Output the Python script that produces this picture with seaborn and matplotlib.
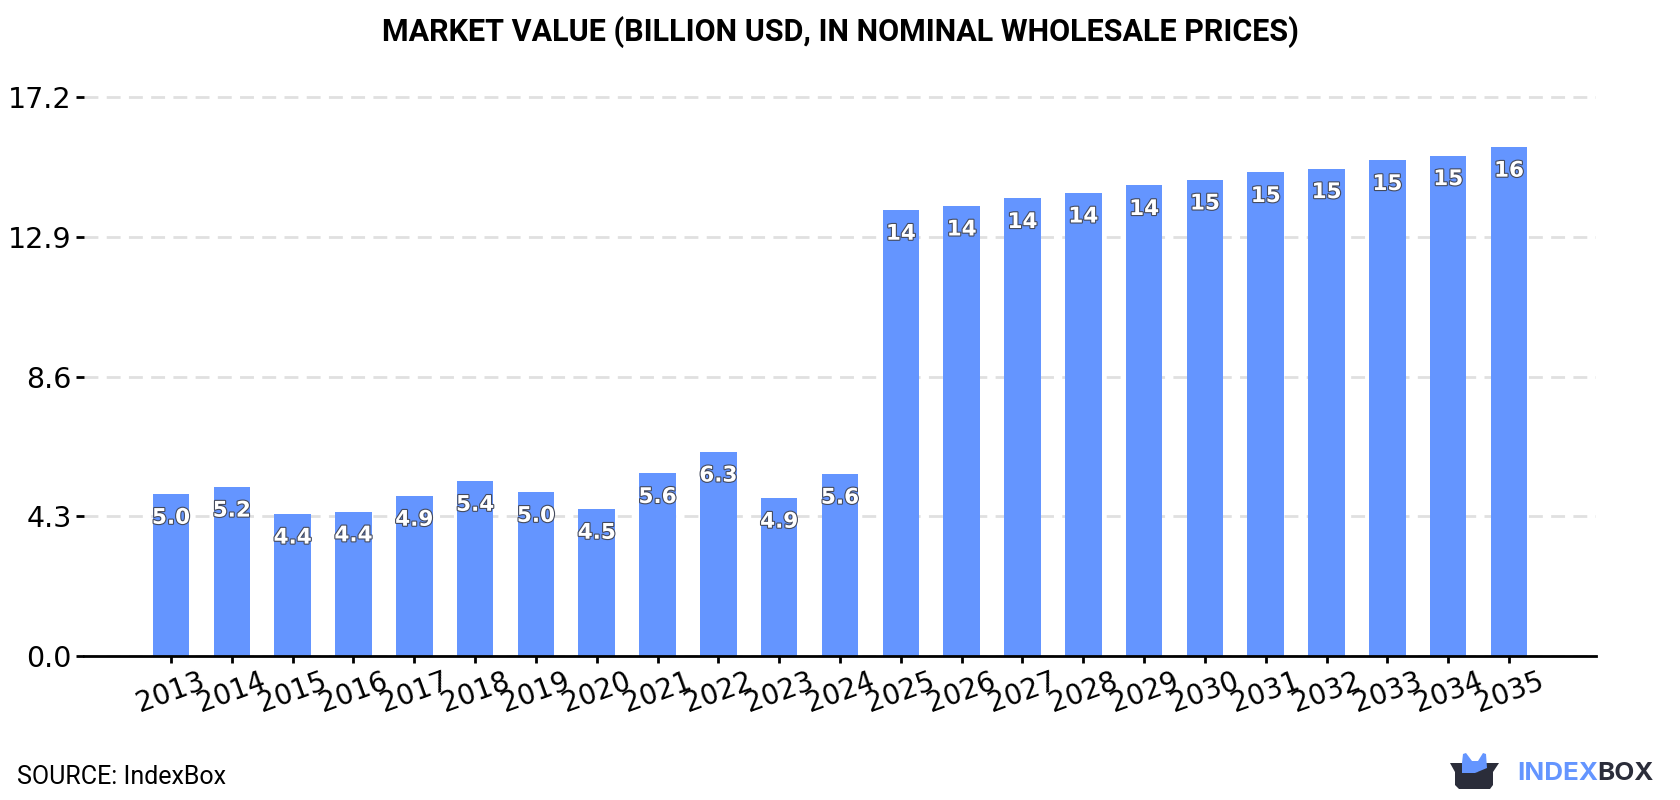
import matplotlib
matplotlib.use("Agg")
import matplotlib.pyplot as plt
import matplotlib.patheffects as pe
from matplotlib.patches import Polygon
import pandas as pd
import seaborn as sns

years = [str(y) for y in range(2013, 2036)]
values = [4.98, 5.2, 4.37, 4.44, 4.92, 5.38, 5.04, 4.52, 5.62, 6.28, 4.86, 5.6,
          13.72, 13.85, 14.08, 14.25, 14.48, 14.65, 14.88, 15.0, 15.25, 15.4, 15.66]
y_ticks = [0.0, 4.3, 8.6, 12.9, 17.2]
title = "MARKET VALUE (BILLION USD, IN NOMINAL WHOLESALE PRICES)"
source = "SOURCE: IndexBox"

BAR = "#6495ff"
DARK = "#2b2d3a"
W, H = 1680, 800

sns.set_theme(style="white")
plt.rcParams["font.family"] = ["DejaVu Sans"]

fig = plt.figure(figsize=(W / 100, H / 100), dpi=100, facecolor="white")
ax = fig.add_axes([84 / W, 1 - 656 / H, (1596 - 84) / W, (656 - 71) / H])

df = pd.DataFrame({"year": years, "value": values})
sns.barplot(data=df, x="year", y="value", color=BAR, saturation=1, width=0.6,
            order=years, ax=ax, zorder=3, linewidth=0, edgecolor="none")

ax.set_xlim(-1.43, 23.43)
ax.set_ylim(0, 18)
ax.set_xlabel("")
ax.set_ylabel("")
ax.set_yticks(y_ticks, [f"{t:.1f}" for t in y_ticks])
ax.yaxis.grid(True, color="#e0e0e0", linestyle=(0, (5, 3)), linewidth=2, zorder=0)
ax.set_axisbelow(True)
for side in ("top", "left", "right"):
    ax.spines[side].set_visible(False)
ax.spines["bottom"].set_color("black")
ax.spines["bottom"].set_linewidth(2)
ax.spines["bottom"].set_zorder(6)
ax.tick_params(axis="y", left=True, length=6, width=2, color="black", labelsize=20.5,
               labelcolor="black", pad=3)
ax.tick_params(axis="x", bottom=True, length=5, width=2, color="black", labelsize=20,
               labelcolor="black", pad=3)
for tick in ax.get_xticklabels():
    tick.set_rotation(20)
    tick.set_ha("center")

# Value labels sit inside the top of each bar
for i, v in enumerate(values):
    text = f"{v:.1f}" if v < 10 else f"{v:.0f}"
    ax.annotate(text, (i, v), xytext=(0, -17), textcoords="offset points",
                ha="center", va="center", fontsize=15.5, fontweight="bold", color="white",
                zorder=5,
                path_effects=[pe.withStroke(linewidth=1.6, foreground="#444a5c")])

fig.text(0.5, 1 - 32 / H, title, ha="center", va="center", fontsize=22,
         fontweight="bold", family="Roboto", color="black")
fig.text(17 / W, 1 - 777 / H, source, ha="left", va="center", fontsize=18,
         family="Roboto", color="black")

# Brand mark, laid out on an overlay in pixel units
logo = fig.add_axes([0, 0, 1, 1], facecolor="none")
logo.set_xlim(0, W)
logo.set_ylim(H, 0)
logo.axis("off")
logo.add_patch(Polygon([(1462, 763), (1463, 754), (1466, 753), (1472, 761), (1478, 761),
                        (1483, 753), (1486, 754), (1487, 768), (1475, 773), (1462, 773)],
                       closed=True, facecolor=BAR, edgecolor="none", zorder=2))
logo.add_patch(Polygon([(1450, 763), (1461, 763), (1476, 763), (1477, 773), (1478, 763),
                        (1499, 763), (1493, 772), (1493, 785), (1490, 789), (1459, 789),
                        (1455, 785), (1455, 772)],
                       closed=True, facecolor=DARK, edgecolor="none", zorder=1))
logo.add_patch(Polygon([(1462, 763), (1477, 763), (1474, 772), (1462, 772)],
                       closed=True, facecolor=BAR, edgecolor="none", zorder=3))
logo.text(1517, 774, "INDEX", ha="left", va="center", fontsize=18.7, fontweight="bold",
          family="Inter", color=BAR)
logo.text(1597, 774, "BOX", ha="left", va="center", fontsize=18.7, fontweight="bold",
          family="Inter", color=DARK)

fig.savefig("out.png", dpi=100, facecolor="white")
